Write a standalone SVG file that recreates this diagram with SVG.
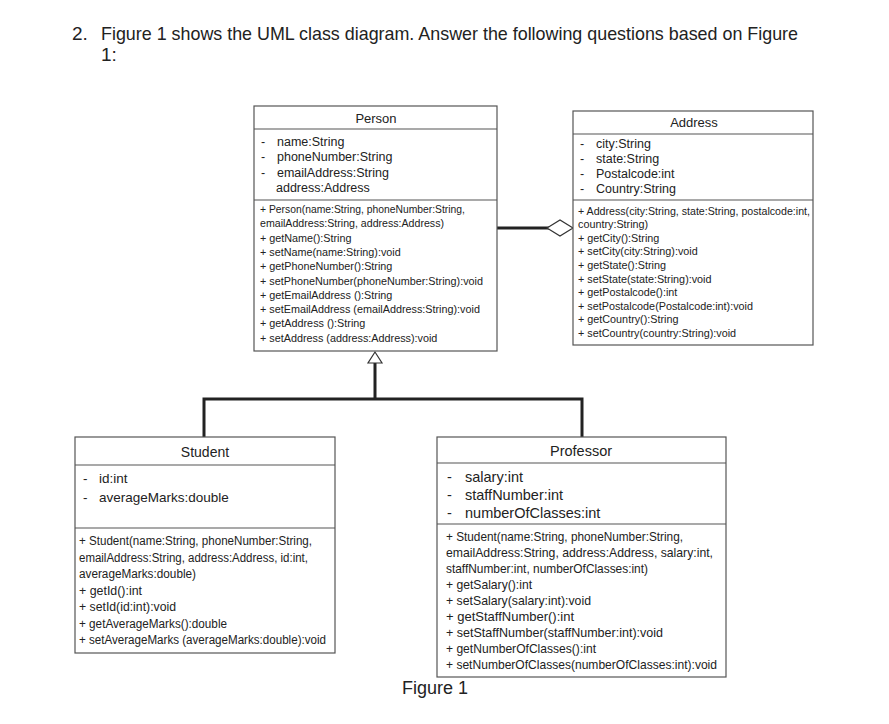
<svg xmlns="http://www.w3.org/2000/svg" width="889" height="724" viewBox="0 0 889 724">
<style>
.box{fill:#fff;stroke:#555;stroke-width:1.2}
.div{stroke:#555;stroke-width:1.2}
.t{font-family:"Liberation Sans",Arial,sans-serif;fill:#222}
.title{font-family:"Liberation Sans",Arial,sans-serif;font-size:19px;fill:#222}
.hd{font-size:13px;text-anchor:middle}
.at{font-size:12.5px}
.me{font-size:10.8px}
.conn{stroke:#222;stroke-width:3;fill:none}
.head{fill:#fff;stroke:#333;stroke-width:1.2}
</style>
<rect width="889" height="724" fill="#fff"/>
<text class="title" x="72" y="40">2.</text>
<text class="title" x="101" y="40" textLength="697" lengthAdjust="spacingAndGlyphs">Figure 1 shows the UML class diagram. Answer the following questions based on Figure</text>
<text class="title" x="101" y="61">1:</text>
<text class="title" x="402" y="694" style="font-size:18px">Figure 1</text>

<g id="connectors">
<path class="conn" d="M497,228 H549"/>
<polygon class="head" points="547,228 560,220 573,228 560,236"/>
<path class="conn" d="M375,362 V399 M204,437 V399 H582 V437"/>
<polygon class="head" points="375,352 368,363 382,363"/>
</g>

<g id="person" class="t">
<rect class="box" x="254" y="106" width="243" height="245"/>
<line class="div" x1="254" y1="129" x2="497" y2="129"/>
<line class="div" x1="254" y1="200" x2="497" y2="200"/>
<text class="hd" x="376" y="123">Person</text>
<g class="at">
<text x="261" y="146">-</text><text x="277" y="146">name:String</text>
<text x="261" y="161">-</text><text x="277" y="161">phoneNumber:String</text>
<text x="261" y="177">-</text><text x="277" y="177">emailAddress:String</text>
<text x="276" y="192">address:Address</text>
</g>
<g class="me">
<text x="260" y="213" textLength="205" lengthAdjust="spacingAndGlyphs">+ Person(name:String, phoneNumber:String,</text>
<text x="260" y="227" textLength="184" lengthAdjust="spacingAndGlyphs">emailAddress:String, address:Address)</text>
<text x="260" y="242">+ getName():String</text>
<text x="260" y="256">+ setName(name:String):void</text>
<text x="260" y="270">+ getPhoneNumber():String</text>
<text x="260" y="285">+ setPhoneNumber(phoneNumber:String):void</text>
<text x="260" y="299">+ getEmailAddress ():String</text>
<text x="260" y="313">+ setEmailAddress (emailAddress:String):void</text>
<text x="260" y="327">+ getAddress ():String</text>
<text x="260" y="342">+ setAddress (address:Address):void</text>
</g>
</g>

<g id="address" class="t">
<rect class="box" x="573" y="111" width="240" height="234"/>
<line class="div" x1="573" y1="134" x2="813" y2="134"/>
<line class="div" x1="573" y1="200" x2="813" y2="200"/>
<text class="hd" x="694" y="127">Address</text>
<g class="at">
<text x="580" y="148">-</text><text x="596" y="148">city:String</text>
<text x="580" y="163">-</text><text x="596" y="163">state:String</text>
<text x="580" y="178">-</text><text x="596" y="178">Postalcode:int</text>
<text x="580" y="193">-</text><text x="596" y="193">Country:String</text>
</g>
<g class="me">
<text x="578" y="215" textLength="232" lengthAdjust="spacingAndGlyphs">+ Address(city:String, state:String, postalcode:int,</text>
<text x="578" y="228">country:String)</text>
<text x="578" y="242">+ getCity():String</text>
<text x="578" y="255">+ setCity(city:String):void</text>
<text x="578" y="269">+ getState():String</text>
<text x="578" y="283">+ setState(state:String):void</text>
<text x="578" y="296">+ getPostalcode():int</text>
<text x="578" y="310">+ setPostalcode(Postalcode:int):void</text>
<text x="578" y="323">+ getCountry():String</text>
<text x="578" y="337">+ setCountry(country:String):void</text>
</g>
</g>

<g id="student" class="t">
<rect class="box" x="75" y="437" width="260" height="216"/>
<line class="div" x1="75" y1="465" x2="335" y2="465"/>
<line class="div" x1="75" y1="528" x2="335" y2="528"/>
<text class="hd" x="205" y="457" style="font-size:14px">Student</text>
<g style="font-size:13.5px">
<text x="83" y="483">-</text><text x="99" y="483">id:int</text>
<text x="83" y="502">-</text><text x="99" y="502">averageMarks:double</text>
</g>
<g style="font-size:12px">
<text x="79" y="545" textLength="233" lengthAdjust="spacingAndGlyphs">+ Student(name:String, phoneNumber:String,</text>
<text x="79" y="562" textLength="229" lengthAdjust="spacingAndGlyphs">emailAddress:String, address:Address, id:int,</text>
<text x="79" y="578" textLength="117" lengthAdjust="spacingAndGlyphs">averageMarks:double)</text>
<text x="79" y="595" textLength="63" lengthAdjust="spacingAndGlyphs">+ getId():int</text>
<text x="79" y="611" textLength="97" lengthAdjust="spacingAndGlyphs">+ setId(id:int):void</text>
<text x="79" y="628" textLength="148" lengthAdjust="spacingAndGlyphs">+ getAverageMarks():double</text>
<text x="79" y="644" textLength="247" lengthAdjust="spacingAndGlyphs">+ setAverageMarks (averageMarks:double):void</text>
</g>
</g>

<g id="professor" class="t">
<rect class="box" x="437" y="437" width="289" height="240"/>
<line class="div" x1="437" y1="463" x2="726" y2="463"/>
<line class="div" x1="437" y1="524" x2="726" y2="524"/>
<text class="hd" x="581" y="456" style="font-size:14.5px">Professor</text>
<g style="font-size:14.5px">
<text x="447" y="482">-</text><text x="465" y="482">salary:int</text>
<text x="447" y="500">-</text><text x="465" y="500">staffNumber:int</text>
<text x="447" y="518">-</text><text x="465" y="518">numberOfClasses:int</text>
</g>
<g style="font-size:13px">
<text x="446" y="541" textLength="237" lengthAdjust="spacingAndGlyphs">+ Student(name:String, phoneNumber:String,</text>
<text x="446" y="557" textLength="267" lengthAdjust="spacingAndGlyphs">emailAddress:String, address:Address, salary:int,</text>
<text x="446" y="573" textLength="202" lengthAdjust="spacingAndGlyphs">staffNumber:int, numberOfClasses:int)</text>
<text x="446" y="589" textLength="86" lengthAdjust="spacingAndGlyphs">+ getSalary():int</text>
<text x="446" y="605" textLength="145" lengthAdjust="spacingAndGlyphs">+ setSalary(salary:int):void</text>
<text x="446" y="621" textLength="128" lengthAdjust="spacingAndGlyphs">+ getStaffNumber():int</text>
<text x="446" y="637" textLength="217" lengthAdjust="spacingAndGlyphs">+ setStaffNumber(staffNumber:int):void</text>
<text x="446" y="653" textLength="150" lengthAdjust="spacingAndGlyphs">+ getNumberOfClasses():int</text>
<text x="446" y="669" textLength="271" lengthAdjust="spacingAndGlyphs">+ setNumberOfClasses(numberOfClasses:int):void</text>
</g>
</g>
</svg>
